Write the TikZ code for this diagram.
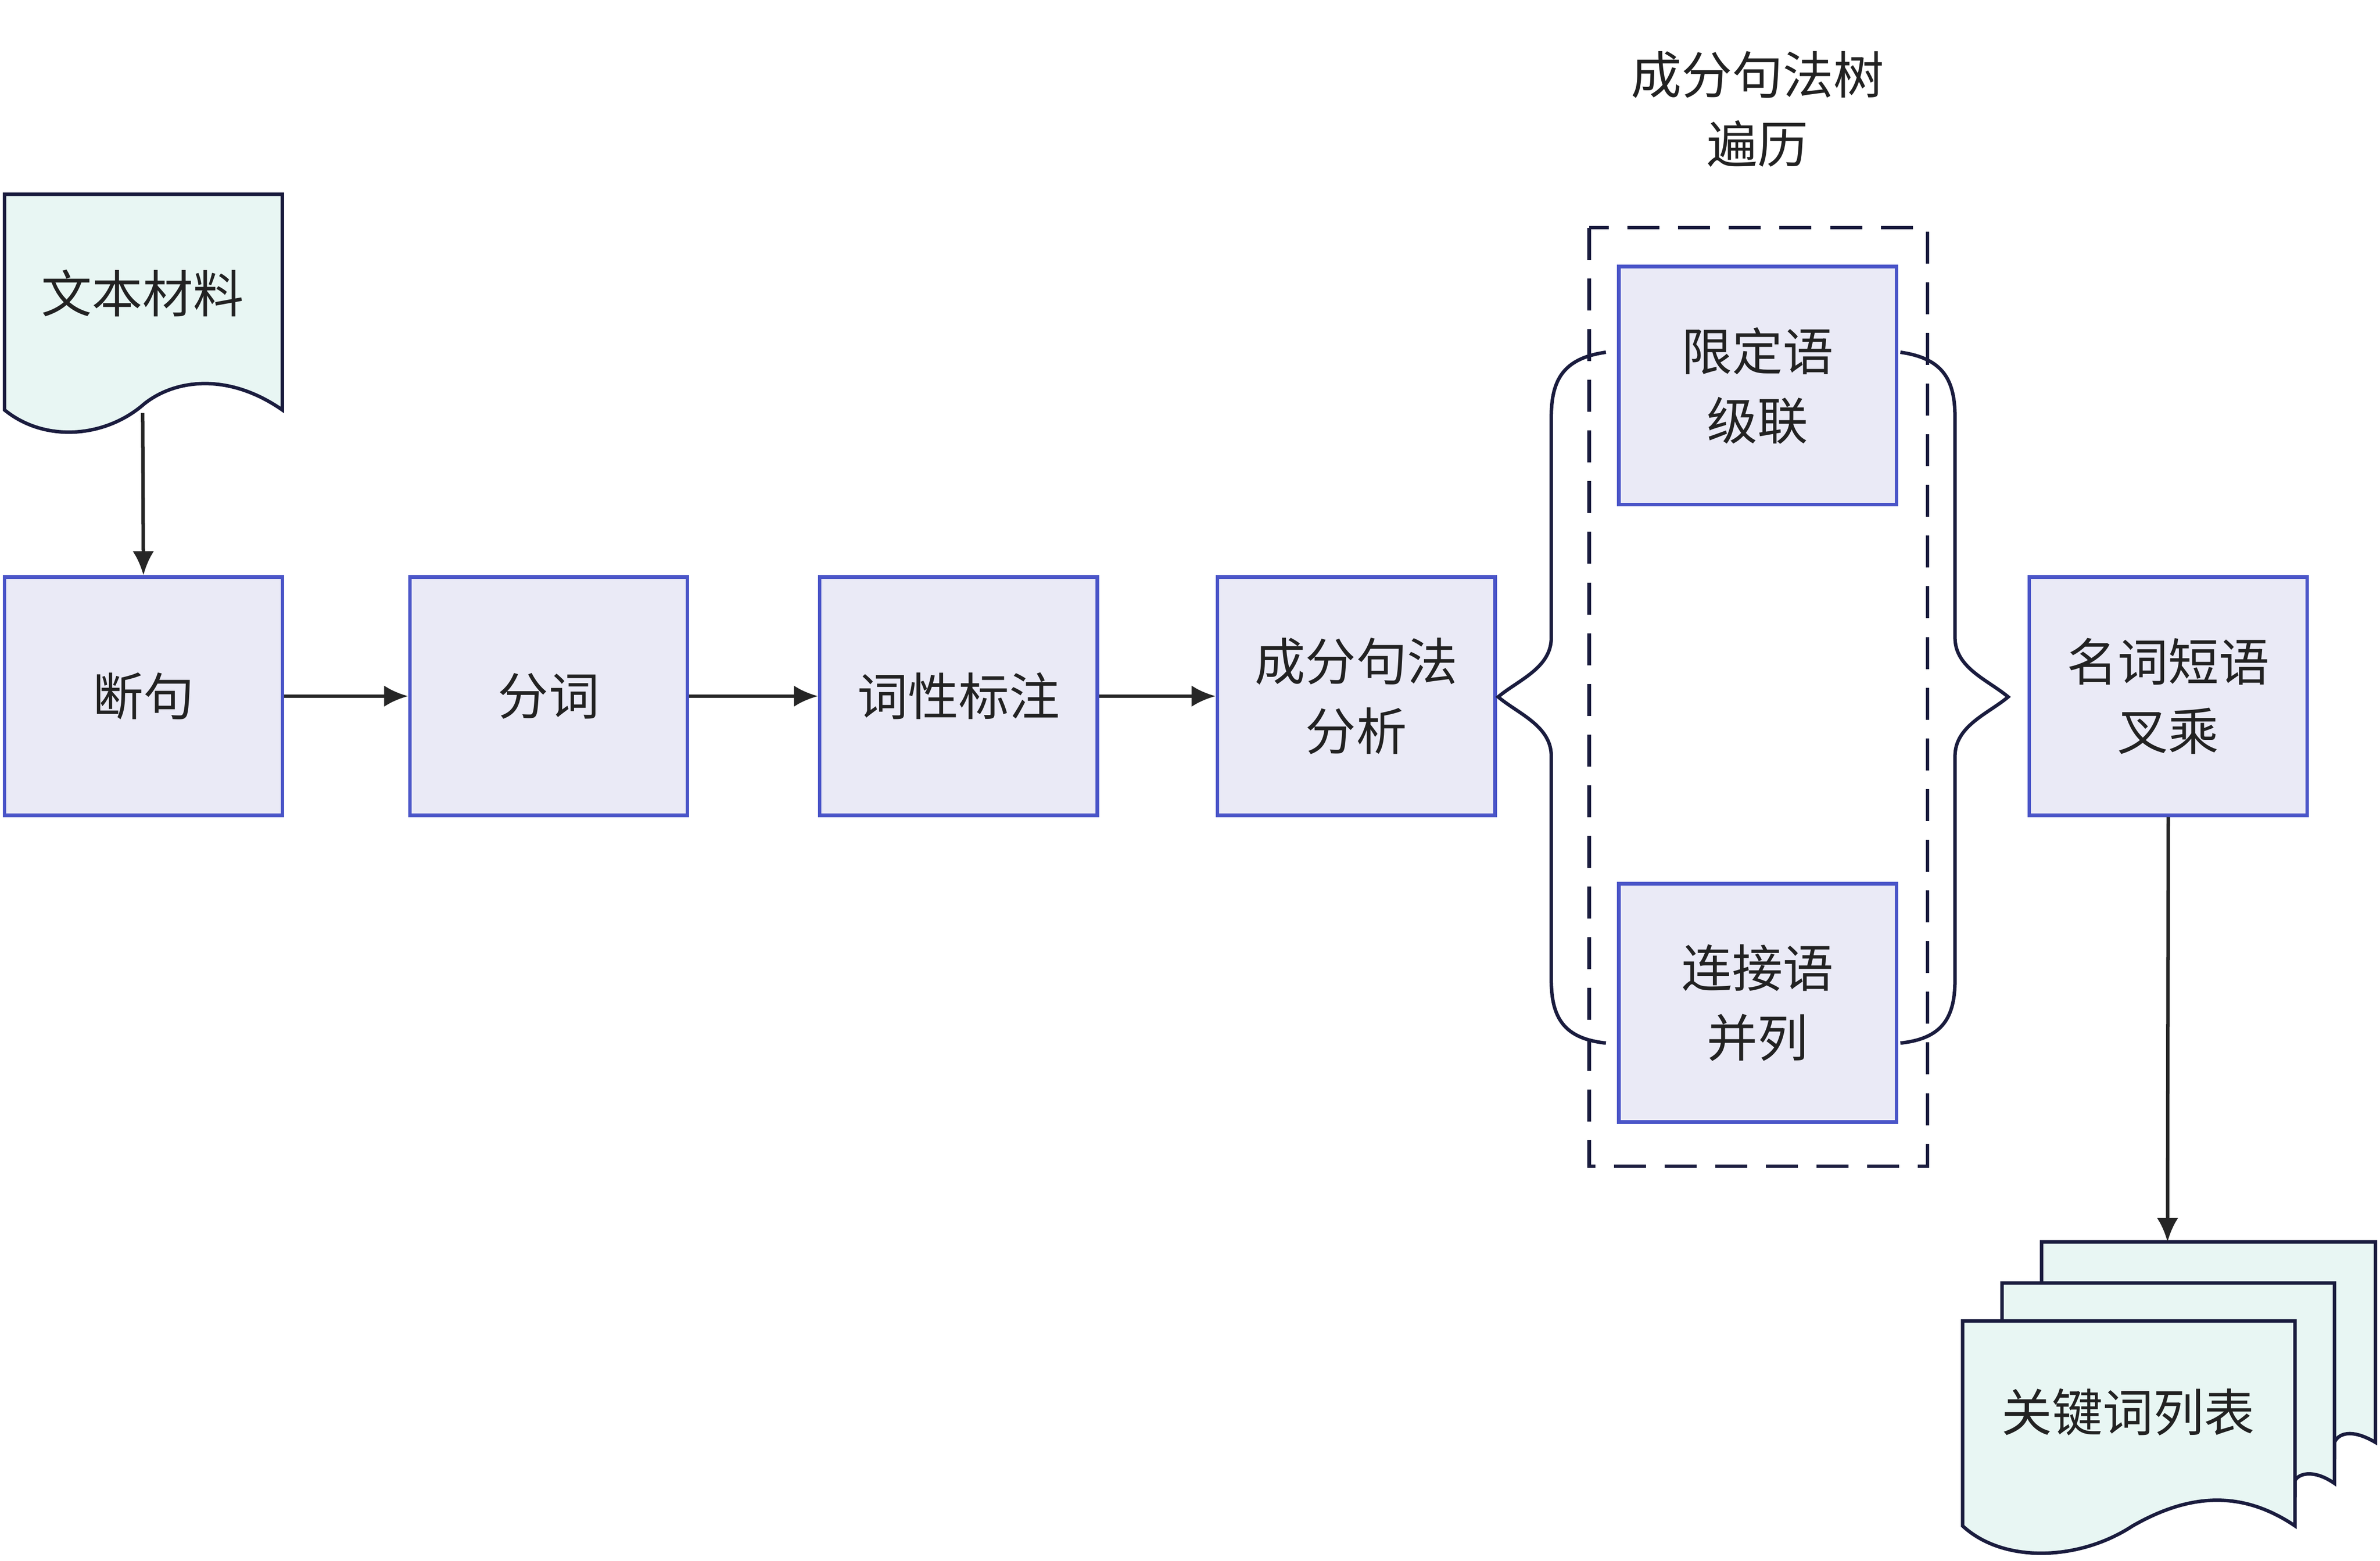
\documentclass[tikz,border=0pt]{standalone}
\usepackage{fontspec}
\usetikzlibrary{arrows.meta}
\newfontfamily\cjk{Noto Sans CJK SC}
\begin{document}
\begin{tikzpicture}[x=0.02cm,y=-0.02cm,
  box/.style={draw=boxb,fill=boxf,line width=1.3pt,minimum width=3.66cm,minimum height=3.14cm,inner sep=0pt,align=center,font=\cjk\fontsize{19}{26}\selectfont,text=txt},
  lbl/.style={align=center,font=\cjk\fontsize{19}{26}\selectfont,text=txt},
  docs/.style={draw=navy,fill=docf,line width=1.3pt},
  arr/.style={-{Latex[length=9pt,width=8pt]},line width=1.3pt,draw=black!85},
  br/.style={draw=navy,line width=1.3pt}]
\definecolor{boxb}{HTML}{4A55C8}
\definecolor{boxf}{HTML}{EAEAF6}
\definecolor{docf}{HTML}{E8F6F3}
\definecolor{navy}{HTML}{1A1C3E}
\definecolor{txt}{HTML}{222222}
\useasboundingbox (0,0) rectangle (1568,1028);
% document
\path[docs] (3,128) -- (186,128) -- (186,270) .. controls (150,245) and (115,250) .. (95,266) .. controls (70,288) and (30,292) .. (3,270) -- cycle;
\node[lbl] (doc) at (94,193) {文本材料};
\coordinate (docb) at (94,272);
\node[box] (dj) at (94.5,458.5) {断句};
\node[box] (fc) at (361.5,458.5) {分词};
\node[box] (cx) at (631.5,458.5) {词性标注};
\node[box] (cf) at (893.5,458.5) {成分句法\\分析};
\draw[navy,line width=1.3pt,dash pattern=on 12pt off 7pt] (1047,150) rectangle (1270,768);
\node[lbl] (title) at (1158,72) {成分句法树\\遍历};
\node[box] (xd) at (1158,254) {限定语\\级联};
\node[box] (lj) at (1158,660.5) {连接语\\并列};
\node[box] (mc) at (1428.5,458.5) {名词短语\\叉乘};
% braces
\draw[br] (1058,232) .. controls (1030,236) and (1022,250) .. (1022,275) -- (1022,420) .. controls (1022,440) and (1000,448) .. (987,459)
  .. controls (1000,470) and (1022,478) .. (1022,498) -- (1022,645) .. controls (1022,670) and (1030,684) .. (1058,687);
\draw[br] (1252,232) .. controls (1280,236) and (1288,250) .. (1288,275) -- (1288,420) .. controls (1288,440) and (1310,448) .. (1323,459)
  .. controls (1310,470) and (1288,478) .. (1288,498) -- (1288,645) .. controls (1288,670) and (1280,684) .. (1252,687);
% multi document
\path[docs] (1345,818) -- (1565,818) -- (1565,950) .. controls (1548,940) and (1540,945) .. (1538,950) -- (1538,960) -- (1345,960) -- cycle;
\path[docs] (1319,845) -- (1538,845) -- (1538,977) .. controls (1525,968) and (1515,970) .. (1512,975) -- (1512,985) -- (1319,985) -- cycle;
\path[docs] (1293,870) -- (1512,870) -- (1512,1005) .. controls (1475,980) and (1440,985) .. (1405,1005) .. controls (1370,1028) and (1320,1030) .. (1293,1005) -- cycle;
\node[lbl] (kw) at (1402,930) {关键词列表};
\coordinate (kwt) at (1428,818);
% arrows
\draw[arr] (docb) -- (dj.north);
\draw[arr] (dj) -- (fc);
\draw[arr] (fc) -- (cx);
\draw[arr] (cx) -- (cf);
\draw[arr] (mc.south) -- (kwt);
\end{tikzpicture}
\end{document}
